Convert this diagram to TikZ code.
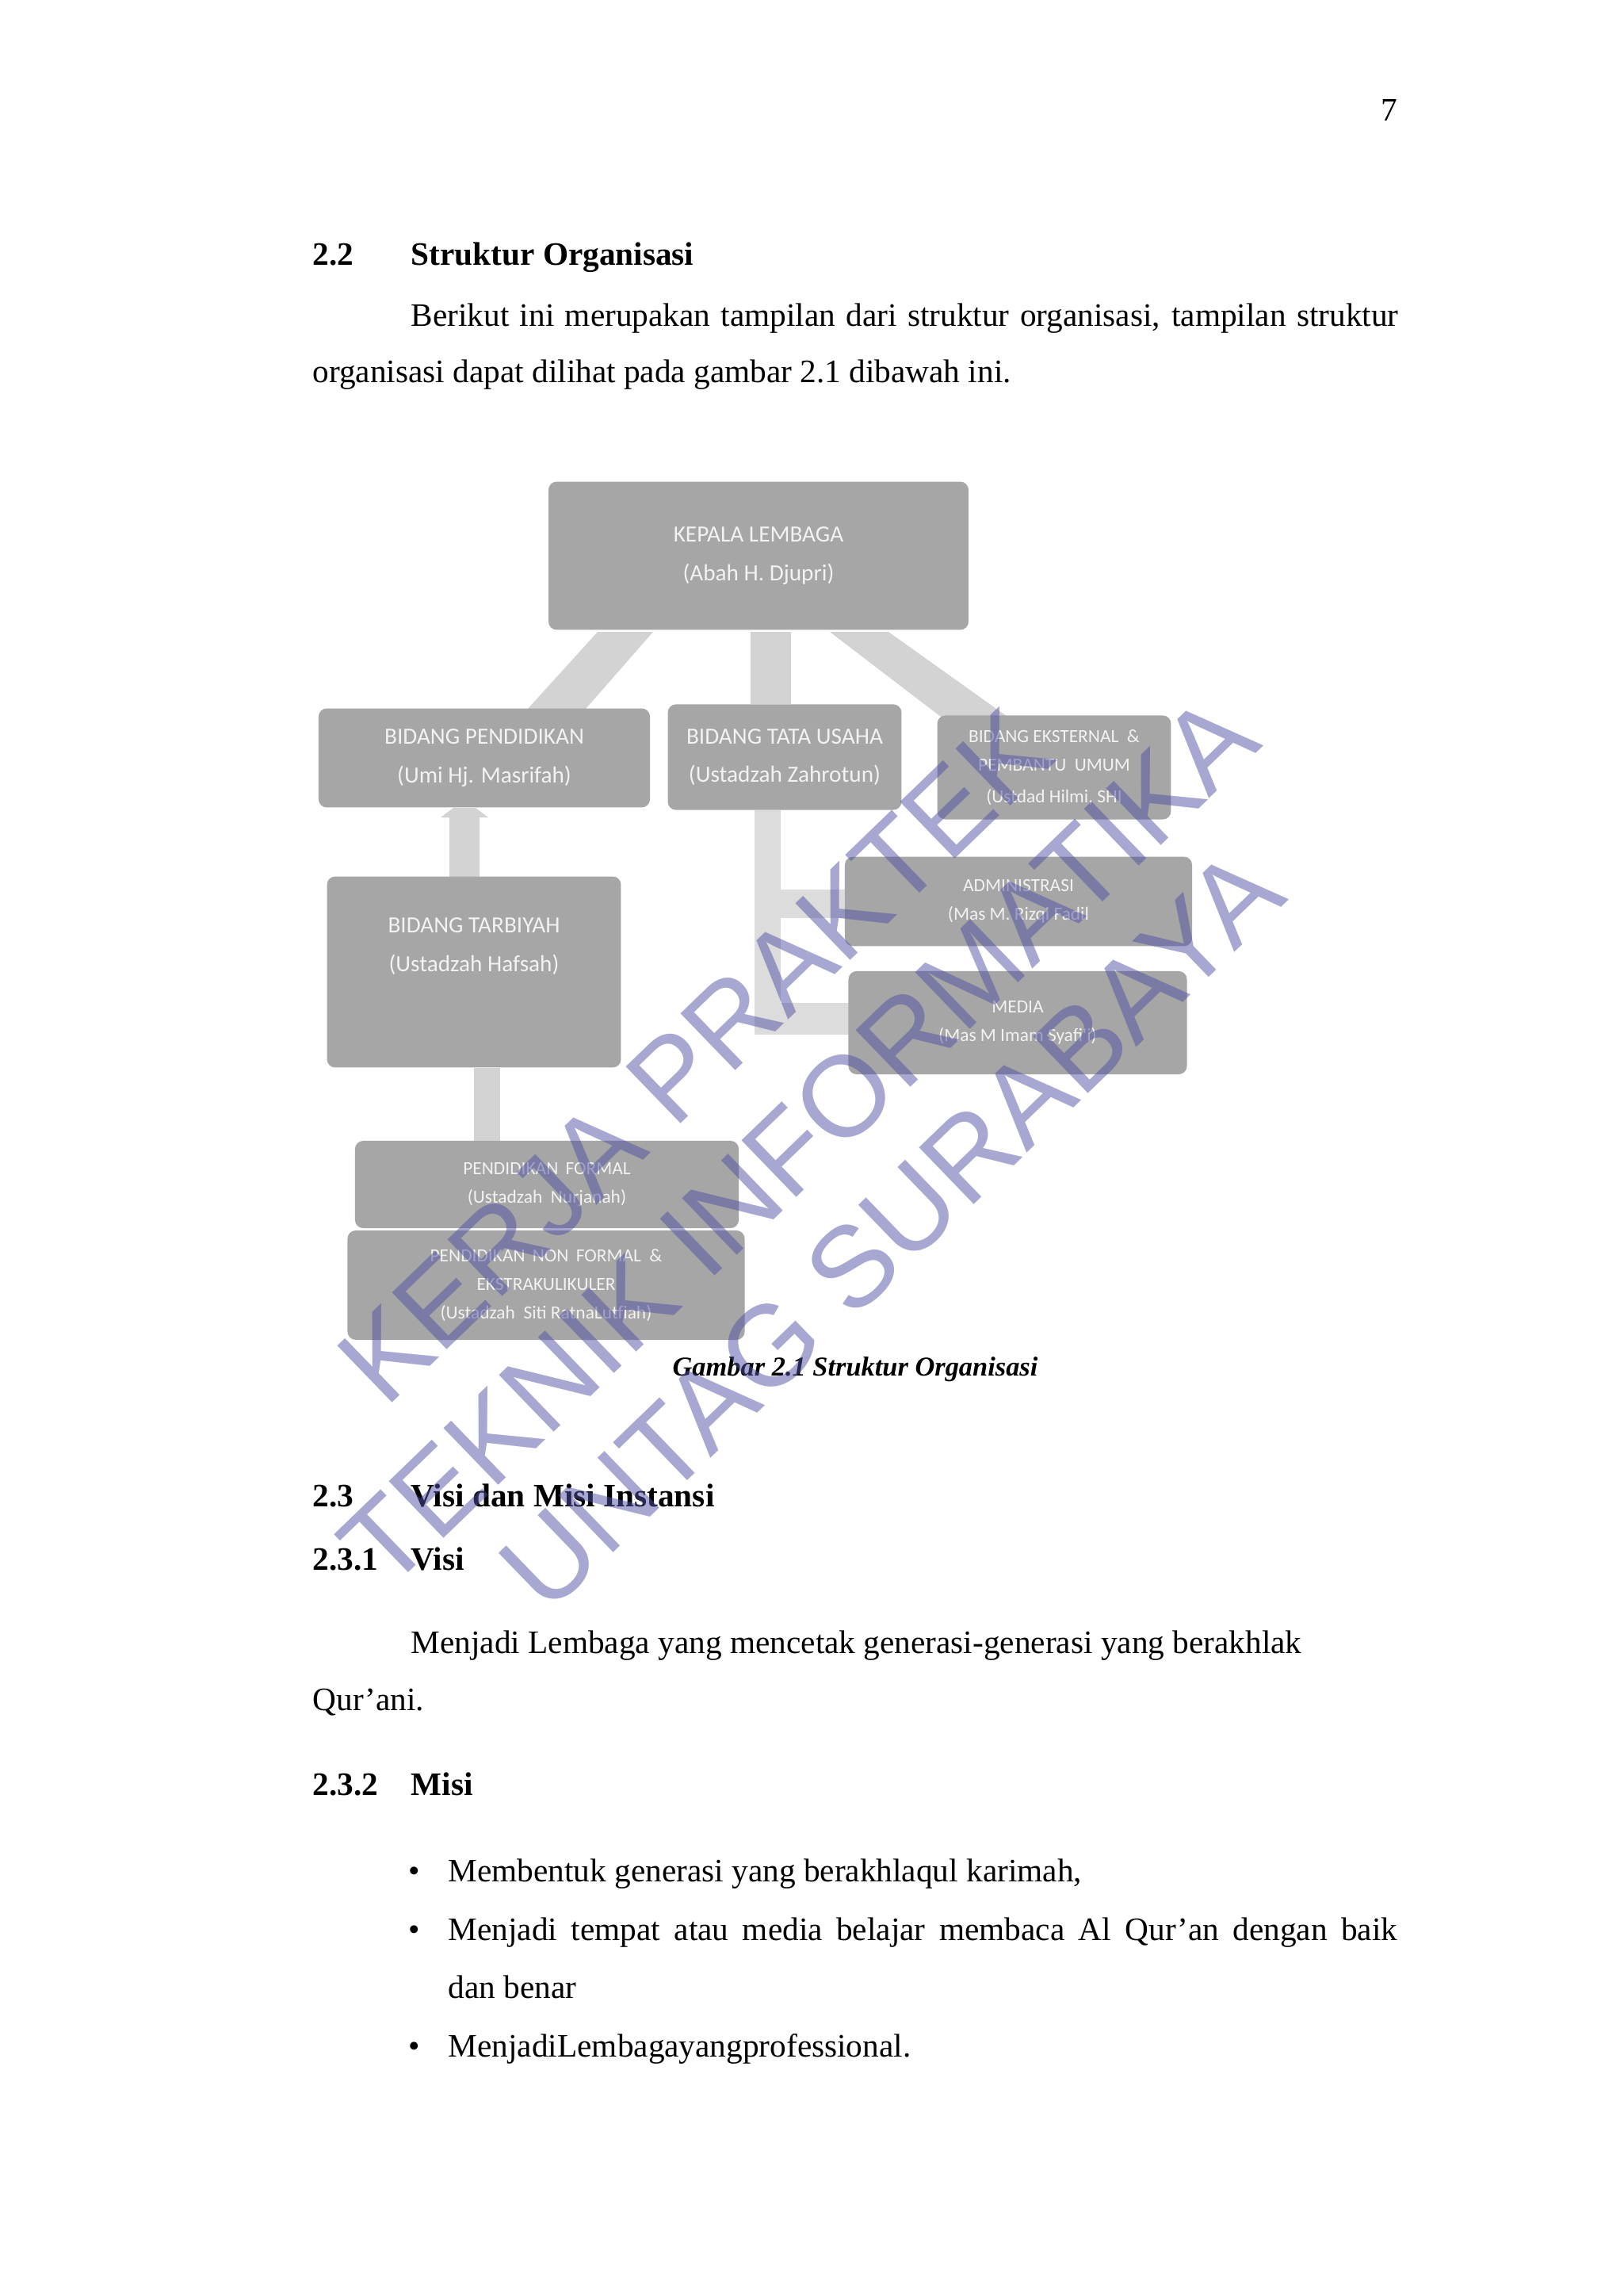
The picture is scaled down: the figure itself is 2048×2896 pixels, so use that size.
\documentclass[tikz,border=0pt]{standalone}
\usepackage{fontspec}
\setmainfont{Liberation Serif}
\newfontfamily\calfnt{Carlito}
\newfontfamily\wmfnt{Liberation Sans}
\definecolor{boxg}{RGB}{166,166,166}
\definecolor{conn}{RGB}{211,211,211}
\definecolor{boxt}{RGB}{242,242,242}
\definecolor{wmc}{RGB}{80,80,165}
\begin{document}
\begin{tikzpicture}[x={(0.2906pt,0)},y={(0,-0.2906pt)},
  bx/.style={fill=boxg,rounded corners=3pt,inner sep=0pt,text=boxt,align=center,font=\calfnt\fontsize{8.5}{14}\selectfont},
  sbx/.style={bx,font=\calfnt\fontsize{6.8}{10.5}\selectfont},
  body/.style={anchor=base west,inner sep=0pt,font=\fontsize{12}{14}\selectfont},
  hd/.style={body,font=\bfseries\fontsize{12}{14}\selectfont},
  wmk/.style={text=wmc,text opacity=0.5,font=\wmfnt\fontsize{42}{42}\selectfont,rotate=44}]
\useasboundingbox (0,0) rectangle (2048,2896);
\fill[white] (0,0) rectangle (2048,2896);
% text
\node[body,anchor=base east] (pg) at (1764,153) {7};
\node[hd] (h22) at (394,335) {2.2};
\node[hd] (h22t) at (518,335) {Struktur Organisasi};
\node[body] (p1) at (518,412) {\makebox[362pt][s]{Berikut ini merupakan tampilan dari struktur organisasi, tampilan struktur}};
\node[body] (p2) at (394,483) {organisasi dapat dilihat pada gambar 2.1 dibawah ini.};
% connectors
\fill[conn] (754,797)--(824,797)--(739,894)--(666,894)--cycle;
\fill[conn] (947,797) rectangle (998,888);
\fill[conn] (1047,797)--(1121,797)--(1271,904)--(1187,904)--cycle;
\fill[conn] (567,1030) rectangle (605,1106);
\fill[conn] (572,1019)--(600,1019)--(616,1031)--(556,1031)--cycle;
\fill[conn] (598,1347) rectangle (631,1440);
\fill[conn!80!white] (952,1022) rectangle (985,1305);
\fill[conn!80!white] (985,1122) rectangle (1070,1158);
\fill[conn!80!white] (985,1265) rectangle (1074,1305);
% boxes
\node[bx,minimum width=154pt,minimum height=54.3pt] (kep) at (957,701) {KEPALA LEMBAGA\\(Abah H. Djupri)};
\node[bx,minimum width=121.5pt,minimum height=36.3pt] (pend) at (611,956) {BIDANG PENDIDIKAN\\(Umi Hj. Masrifah)};
\node[bx,minimum width=85.7pt,minimum height=38.7pt] (tu) at (990,955) {BIDANG TATA USAHA\\(Ustadzah Zahrotun)};
\node[sbx,minimum width=85.7pt,minimum height=38.1pt] (eks) at (1330,968) {BIDANG EKSTERNAL \ \&\\PEMBANTU \ UMUM\\[1pt](Ustdad Hilmi, SHI};
\node[sbx,minimum width=127.3pt,minimum height=32.8pt] (adm) at (1285,1137) {ADMINISTRASI\\(Mas M. Rizqi Fadil};
\node[sbx,minimum width=124.1pt,minimum height=37.8pt] (med) at (1284,1290) {MEDIA\\(Mas M Imam Syafi'i)};
\node[bx,minimum width=107.8pt,minimum height=70pt] (tar) at (598,1226) {BIDANG TARBIYAH\\(Ustadzah Hafsah)\\[6pt]};
\node[sbx,minimum width=140.7pt,minimum height=32pt] (pf) at (690,1494) {PENDIDIKAN \,FORMAL\\(Ustadzah \ Nurjanah)};
\node[sbx,minimum width=145.6pt,minimum height=40.1pt] (pnf) at (689,1621) {PENDIDIKAN \,NON \,FORMAL \ \&\\EKSTRAKULIKULER\\(Ustadzah \ Siti RatnaLutfiah)};
% caption
\node[inner sep=0pt,font=\bfseries\itshape\fontsize{10}{12}\selectfont] (cap) at (1079,1727) {Gambar 2.1 Struktur Organisasi};
% section 2.3
\node[hd] (h23) at (394,1900) {2.3};
\node[hd] (h23t) at (518,1900) {Visi dan Misi Instansi};
\node[hd] (h231) at (394,1980) {2.3.1};
\node[hd] (h231t) at (518,1980) {Visi};
\node[body] (v1) at (518,2085) {Menjadi Lembaga yang mencetak generasi-generasi yang berakhlak};
\node[body] (v2) at (394,2157) {Qur’ani.};
\node[hd] (h232) at (394,2264) {2.3.2};
\node[hd] (h232t) at (518,2264) {Misi};
\node[body] (b1d) at (515,2373) {\textbullet};
\node[body] (b1) at (565,2373) {Membentuk generasi yang berakhlaqul karimah,};
\node[body] (b2d) at (515,2447) {\textbullet};
\node[body] (b2) at (565,2447) {\makebox[348pt][s]{Menjadi tempat atau media belajar membaca Al Qur’an dengan baik}};
\node[body] (b2b) at (565,2520) {dan benar};
\node[body] (b3d) at (515,2594) {\textbullet};
\node[body] (b3) at (565,2594) {MenjadiLembagayangprofessional.};
% watermark
\node[wmk] (w1) at (877,1332) {KERJA PRAKTEK};
\node[wmk] (w2) at (1007,1439) {TEKNIK INFORMATIKA};
\node[wmk] (w3) at (1124,1551) {UNTAG SURABAYA};
\end{tikzpicture}
\end{document}
